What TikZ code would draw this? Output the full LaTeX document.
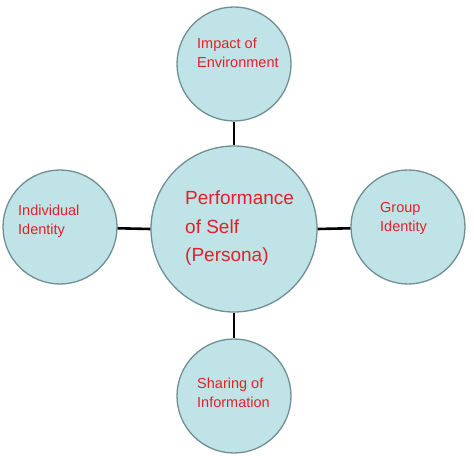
\documentclass[tikz,border=0pt]{standalone}
\usepackage{fontspec}
\setmainfont{Liberation Sans}
\definecolor{bubble}{HTML}{BFE3E7}
\definecolor{rim}{HTML}{6F8F93}
\definecolor{label}{HTML}{E3202A}
\tikzset{
	topic/.style={circle, draw=rim, line width=1.3bp, fill=bubble, inner sep=0pt, minimum size=114bp},
	core/.style={topic, minimum size=166bp},
	words/.style={text=label, align=left, inner sep=0pt, anchor=base west, font=\fontsize{14.5bp}{19.5bp}\selectfont},
	bigwords/.style={words, font=\fontsize{19bp}{28.5bp}\selectfont},
	link/.style={line width=2.6bp, black}
}
\begin{document}
\begin{tikzpicture}[x=1bp, y=1bp]
	\useasboundingbox (0,0) rectangle (474,456);

	\node[core] (self) at (234,227) {};
	\node[topic] (env) at (234,392) {};
	\node[topic] (indiv) at (60,229) {};
	\node[topic] (group) at (408,229) {};
	\node[topic] (share) at (234,60) {};

	\draw[link] (self) -- (env);
	\draw[link] (self) -- (share);
	\draw[link] (self.west) -- (indiv);
	\draw[link] (self.east) -- (group);

	% base anchor sits on the last line
	\node[bigwords] (selftext) at (185,194) {Performance\\of Self\\(Persona)};
	\node[words] (envtext) at (197,388) {Impact of\\Environment};
	\node[words] (indivtext) at (18,221) {Individual\\Identity};
	\node[words] (grouptext) at (380,224) {Group\\Identity};
	\node[words] (sharetext) at (197,48) {Sharing of\\Information};
\end{tikzpicture}
\end{document}
